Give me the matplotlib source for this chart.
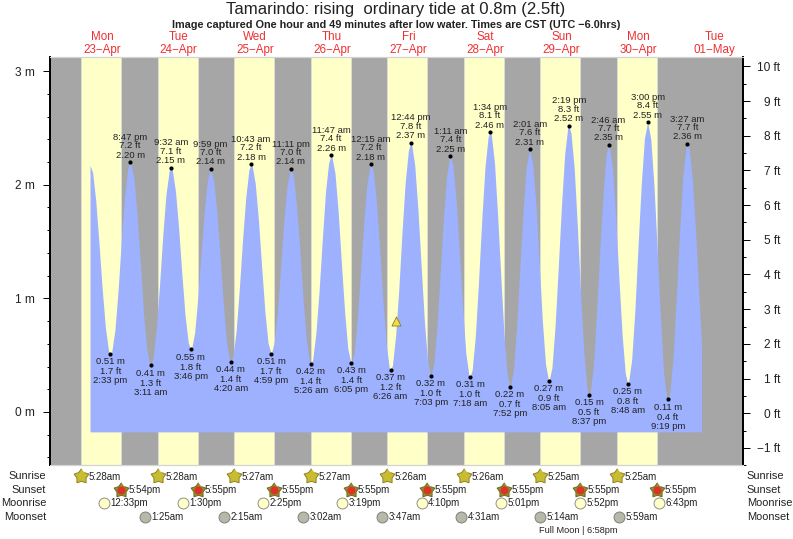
import numpy as np
from matplotlib import pyplot as plt
from matplotlib.ticker import MultipleLocator, FuncFormatter
from matplotlib.transforms import blended_transform_factory

plt.rcParams['font.family'] = ['Liberation Sans', 'DejaVu Sans']

GRAY = '#a6a6a6'
YELLOW = '#ffffc8'
BLUE = '#9db1ff'
INK = '#222222'

# water level read hour by hour, hours counted from 23-Apr 00:00
level_first_hour = 9
levels = [
    2.11, 1.86, 1.49, 1.09, 0.75, 0.54, 0.53, 0.72, 1.07, 1.50, 1.88, 2.14,
    2.19, 2.05, 1.72, 1.30, 0.86, 0.55, 0.41, 0.48, 0.74, 1.12, 1.55, 1.91,
    2.12, 2.13, 1.94, 1.61, 1.21, 0.85, 0.61, 0.55, 0.70, 1.01, 1.39, 1.76,
    2.04, 2.14, 2.03, 1.75, 1.36, 0.95, 0.61, 0.45, 0.49, 0.71, 1.08, 1.51,
    1.88, 2.13, 2.17, 2.01, 1.69, 1.28, 0.89, 0.61, 0.51, 0.62, 0.90, 1.29,
    1.70, 2.00, 2.14, 2.07, 1.80, 1.42, 0.99, 0.64, 0.44, 0.46, 0.69, 1.06,
    1.51, 1.93, 2.19, 2.25, 2.10, 1.76, 1.31, 0.89, 0.56, 0.43, 0.52, 0.82,
    1.23, 1.66, 2.01, 2.17, 2.12, 1.84, 1.43, 0.99, 0.61, 0.39, 0.41, 0.67,
    1.08, 1.58, 2.02, 2.30, 2.36, 2.17, 1.78, 1.29, 0.81, 0.45, 0.32, 0.43,
    0.76, 1.23, 1.71, 2.08, 2.25, 2.17, 1.85, 1.40, 0.93, 0.52, 0.32, 0.37,
    0.67, 1.15, 1.69, 2.15, 2.42, 2.44, 2.19, 1.72, 1.18, 0.67, 0.32, 0.22,
    0.39, 0.78, 1.30, 1.79, 2.17, 2.31, 2.18, 1.82, 1.32, 0.80, 0.42, 0.27,
    0.39, 0.76, 1.28, 1.82, 2.27, 2.51, 2.45, 2.14, 1.62, 1.03, 0.53, 0.20,
    0.17, 0.41, 0.88, 1.42, 1.91, 2.27, 2.34, 2.14, 1.71, 1.18, 0.68, 0.34,
    0.26, 0.46, 0.89, 1.46, 2.00, 2.41, 2.55, 2.40, 1.99, 1.43, 0.84, 0.35,
    0.12, 0.18, 0.49, 1.01, 1.58, 2.06, 2.33, 2.32, 2.05, 1.61, 1.08,
]
curve_start = (8.2, 2.17)
curve_end = (199.9, 0.58)
curve_floor = -0.175

tide_days = [0, 0, 1, 1, 1, 1, 2, 2, 2, 2, 3, 3, 3, 4, 4, 4, 4,
             5, 5, 5, 5, 6, 6, 6, 6, 7, 7, 7, 7, 8]
tide_times = ['2:33 pm', '8:47 pm', '3:11 am', '9:32 am', '3:46 pm', '9:59 pm',
              '4:20 am', '10:43 am', '4:59 pm', '11:11 pm', '5:26 am', '11:47 am',
              '6:05 pm', '12:15 am', '6:26 am', '12:44 pm', '7:03 pm', '1:11 am',
              '7:18 am', '1:34 pm', '7:52 pm', '2:01 am', '8:05 am', '2:19 pm',
              '8:37 pm', '2:46 am', '8:48 am', '3:00 pm', '9:19 pm', '3:27 am']
tide_m = [0.51, 2.20, 0.41, 2.15, 0.55, 2.14, 0.44, 2.18, 0.51, 2.14, 0.42, 2.26,
          0.43, 2.18, 0.37, 2.37, 0.32, 2.25, 0.31, 2.46, 0.22, 2.31, 0.27, 2.52,
          0.15, 2.35, 0.25, 2.55, 0.11, 2.36]
tide_ft = [1.7, 7.2, 1.3, 7.1, 1.8, 7.0, 1.4, 7.2, 1.7, 7.0, 1.4, 7.4,
           1.4, 7.2, 1.2, 7.8, 1.0, 7.4, 1.0, 8.1, 0.7, 7.6, 0.9, 8.3,
           0.5, 7.7, 0.8, 8.4, 0.4, 7.7]

day_names = ['Mon', 'Tue', 'Wed', 'Thu', 'Fri', 'Sat', 'Sun', 'Mon', 'Tue']
day_dates = ['23−Apr', '24−Apr', '25−Apr', '26−Apr', '27−Apr',
             '28−Apr', '29−Apr', '30−Apr', '01−May']

sunrise = ['5:28am', '5:28am', '5:27am', '5:27am', '5:26am', '5:26am', '5:25am', '5:25am']
sunset = ['5:54pm', '5:55pm', '5:55pm', '5:55pm', '5:55pm', '5:55pm', '5:55pm', '5:55pm']
moonrise = ['12:33pm', '1:30pm', '2:25pm', '3:19pm', '4:10pm', '5:01pm', '5:52pm', '6:43pm']
moonset = ['1:25am', '2:15am', '3:02am', '3:47am', '4:31am', '5:14am', '5:59am']

now_hour = 104.25
now_level = 0.8


def to_hours(day, label):
    clock, half = label[:-2].strip(), label[-2:]
    hh, mm = clock.split(':')
    hh = int(hh) % 12
    if half == 'pm':
        hh += 12
    return day * 24 + hh + int(mm) / 60


W, H = 793, 539
fig = plt.figure(figsize=(W / 100, H / 100), dpi=100)
ax = fig.add_axes([49.5 / W, 1 - 465.3 / H, 693.5 / W, 408 / H])
ax.set_facecolor(GRAY)
ax.set_xlim(-4.5, 212.9)
ax.set_ylim(-0.469, 3.121)

rise_h = [to_hours(i, t) for i, t in enumerate(sunrise)]
set_h = [to_hours(i, t) for i, t in enumerate(sunset)]
for a, b in zip(rise_h, set_h):
    ax.axvspan(a, b, color=YELLOW, lw=0.7, ec='#dcdcd0', zorder=1)

tide_h = [to_hours(d, t) for d, t in zip(tide_days, tide_times)]
level_h = level_first_hour + np.arange(len(levels))
xs = np.concatenate([[curve_start[0]], level_h, tide_h, [curve_end[0]]])
ys = np.concatenate([[curve_start[1]], levels, tide_m, [curve_end[1]]])
order = np.argsort(xs)
ax.fill_between(xs[order], curve_floor, ys[order], color=BLUE, lw=0, zorder=2)

ax.scatter(tide_h, tide_m, s=9, color='black', lw=0, zorder=4)
for h, m, ft, t in zip(tide_h, tide_m, tide_ft, tide_times):
    if m > 1:
        offs = [5, 11.9, 17.8]
    else:
        offs = [-5.5, -12.7, -19.2]
    for off, txt in zip(offs, [f'{m:.2f} m', f'{ft:.1f} ft', t]):
        ax.annotate(txt, (h, m), xytext=(0, off), textcoords='offset points',
                    ha='center', va='center', fontsize=6.8, color=INK, zorder=5)

ax.scatter([now_hour], [now_level], marker='^', s=42, color='#f0e040',
           edgecolor='#8a7a20', lw=0.6, zorder=4)

ax.set_xticks([])
ax.yaxis.set_major_locator(MultipleLocator(1))
ax.yaxis.set_minor_locator(MultipleLocator(0.2))
ax.yaxis.set_major_formatter(FuncFormatter(lambda v, p: f'{v:.0f} m'))
ax.tick_params(axis='y', which='major', length=5, width=0.7, pad=5.4, labelsize=8.6, labelcolor=INK)
ax.tick_params(axis='y', which='minor', length=2.5, width=0.7)

ax2 = ax.twinx()
ax2.set_ylim(-1.50, 10.26)
ax2.yaxis.set_major_locator(MultipleLocator(1))
ax2.yaxis.set_minor_locator(MultipleLocator(0.5))
ax2.yaxis.set_major_formatter(FuncFormatter(lambda v, p: f'{v:.0f} ft'.replace('-', '−')))
ax2.tick_params(axis='y', which='major', length=5, width=0.7, pad=22, labelsize=8.6, labelcolor=INK)
ax2.tick_params(axis='y', which='minor', length=2.5, width=0.7)
for lab in ax2.get_yticklabels():
    lab.set_ha('right')

for a in (ax, ax2):
    a.spines['left'].set_linewidth(1.3)
    a.spines['right'].set_linewidth(1.3)
    a.spines['top'].set_color('#d4d4d4')
    a.spines['bottom'].set_color('#d4d4d4')

# everything outside the plot box is placed in picture pixels
trans = blended_transform_factory(ax.transData, fig.transFigure)


def py(px):
    return 1 - px / H


fig.text(396 / W, py(9.5), 'Tamarindo: rising  ordinary tide at 0.8m (2.5ft)',
         ha='center', va='center', fontsize=12.05, color=INK)
fig.text(396 / W, py(25), 'Image captured One hour and 49 minutes after low water. Times are CST (UTC −6.0hrs)',
         ha='center', va='center', fontsize=7.85, fontweight='bold', color=INK)

for i, (n, d) in enumerate(zip(day_names, day_dates)):
    ax.text(i * 24 + 12, py(37.5), n, transform=trans, ha='center', va='center',
            fontsize=8.4, color='#f03030')
    ax.text(i * 24 + 12, py(50.5), d, transform=trans, ha='center', va='center',
            fontsize=8.4, color='#f03030')

row_names = ['Sunrise', 'Sunset', 'Moonrise', 'Moonset']
row_y = [476, 490, 503.5, 517]
for name, y in zip(row_names, row_y):
    fig.text(46 / W, py(y), name, ha='right', va='center', fontsize=7.9, color=INK)
    fig.text(746.7 / W, py(y), name, ha='left', va='center', fontsize=7.9, color=INK)

# plump five pointed star, fatter than the built in one
angles = np.pi / 2 + np.arange(10) * np.pi / 5
radii = np.where(np.arange(10) % 2 == 0, 1.0, 0.62)
STAR = np.column_stack([radii * np.cos(angles), radii * np.sin(angles)])


def draw_row(hours, labels, y, marker, size, face, edge, gap=8):
    ax.scatter(hours, [py(y)] * len(hours), transform=trans, marker=marker, s=size,
               color=face, edgecolor=edge, lw=0.7, clip_on=False, zorder=6)
    for h, t in zip(hours, labels):
        ax.annotate(t, (h, py(y + 0.5)), xycoords=trans, xytext=(gap * 0.72, 0),
                    textcoords='offset points', ha='left', va='center',
                    fontsize=7, color=INK, annotation_clip=False)


draw_row(rise_h, sunrise, 476, STAR, 125, '#c8bc30', '#8f7f28', gap=7.3)
draw_row(set_h, sunset, 489.5, STAR, 125, '#8f8f30', '#6e6a20', gap=7.3)
ax.scatter(set_h, [py(489.5)] * len(set_h), transform=trans, marker='o', s=34,
           color='#dc3326', lw=0, clip_on=False, zorder=7)
moonrise_h = [to_hours(i, t) for i, t in enumerate(moonrise)]
moonset_h = [to_hours(i + 1, t) for i, t in enumerate(moonset)]
draw_row(moonrise_h, moonrise, 503, 'o', 62, YELLOW, '#909088', gap=6.3)
draw_row(moonset_h, moonset, 516.5, 'o', 62, '#b8b8aa', '#808078', gap=6.8)

fig.text(578 / W, py(530.5), 'Full Moon | 6:58pm', ha='center', va='center', fontsize=6.6, color=INK)

fig.savefig('out.png', dpi=100)
